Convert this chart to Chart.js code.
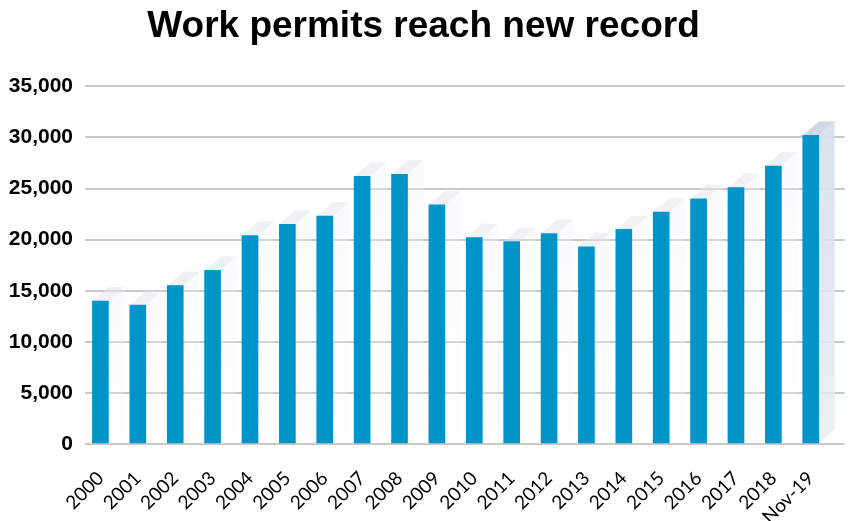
<!DOCTYPE html>
<html><head><meta charset="utf-8">
<script src="https://cdn.jsdelivr.net/npm/chart.js@4/dist/chart.umd.min.js"></script>
<style>html,body{margin:0;padding:0;background:#fff;}#wrap{width:850px;height:521px;}</style>
</head><body><div id="wrap"><canvas id="c" width="850" height="521"></canvas></div>
<script>
const categories = ['2000','2001','2002','2003','2004','2005','2006','2007','2008','2009','2010','2011','2012','2013','2014','2015','2016','2017','2018','Nov-19'];
const permits = [14000,13600,15500,17000,20400,21500,22300,26200,26400,23400,20200,19800,20600,19300,21000,22700,24000,25100,27200,30200];
const yTicks = [0,5000,10000,15000,20000,25000,30000,35000];
const titleText = 'Work permits reach new record';

const depth = {
  id: 'depth',
  beforeDatasetsDraw(chart) {
    const ctx = chart.ctx;
    const meta = chart.getDatasetMeta(0);
    const dx = 16, dy = 14;
    meta.data.forEach((b, i) => {
      const last = i === meta.data.length - 1;
      const l = b.x - b.width / 2, r = b.x + b.width / 2, t = b.y, base = b.base;
      ctx.save();
      ctx.fillStyle = last ? 'rgba(205,212,224,0.9)' : 'rgba(228,229,234,0.55)';
      ctx.beginPath();
      ctx.moveTo(l, t); ctx.lineTo(r, t); ctx.lineTo(r + dx, t - dy); ctx.lineTo(l + dx, t - dy); ctx.closePath();
      ctx.fill();
      const g = ctx.createLinearGradient(0, t, 0, base);
      g.addColorStop(0, last ? 'rgba(215,224,234,0.95)' : 'rgba(240,242,246,0.35)');
      g.addColorStop(1, last ? 'rgba(230,236,242,0.8)' : 'rgba(248,249,251,0.2)');
      ctx.fillStyle = g;
      ctx.beginPath();
      ctx.moveTo(r, t); ctx.lineTo(r + dx, t - dy); ctx.lineTo(r + dx, base - dy); ctx.lineTo(r, base); ctx.closePath();
      ctx.fill();
      ctx.restore();
    });
  }
};

new Chart(document.getElementById('c'), {
  type: 'bar',
  data: {
    datasets: [{
      data: permits.map((v, i) => ({ x: i, y: v })),
      backgroundColor: '#0095c9',
      barThickness: 16
    }]
  },
  plugins: [depth],
  options: {
    responsive: false,
    animation: false,
    layout: { padding: { left: 0, right: 3, top: 0, bottom: 0 } },
    plugins: {
      legend: { display: false },
      tooltip: { enabled: false },
      title: {
        display: true, text: titleText, color: '#000',
        font: { family: 'Liberation Sans, Arial, sans-serif', size: 37, weight: 'bold' },
        padding: { top: 5, bottom: 37 }
      }
    },
    scales: {
      x: {
        type: 'linear', min: -0.413, max: 19.907, offset: false,
        afterBuildTicks: s => { s.ticks = categories.map((_, i) => ({ value: i })); },
        afterFit: s => { s.height = 77; },
        grid: { display: false, drawTicks: false, offset: false },
        border: { display: false },
        ticks: {
          autoSkip: false, minRotation: 45, maxRotation: 45, padding: 23,
          color: '#000',
          font: { family: 'Lato, sans-serif', size: 19 },
          callback: v => categories[v]
        }
      },
      y: {
        min: 0, max: 35000,
        afterBuildTicks: s => { s.ticks = yTicks.map(v => ({ value: v })); },
        afterFit: s => { s.width = 85; },
        grid: { color: '#c9c9cc', lineWidth: 2, drawTicks: false },
        border: { display: false },
        ticks: {
          padding: 12, color: '#000',
          font: { family: 'Liberation Sans, Arial, sans-serif', size: 21, weight: 'bold' },
          callback: v => v.toLocaleString('en-US')
        }
      }
    }
  }
});
</script></body></html>
